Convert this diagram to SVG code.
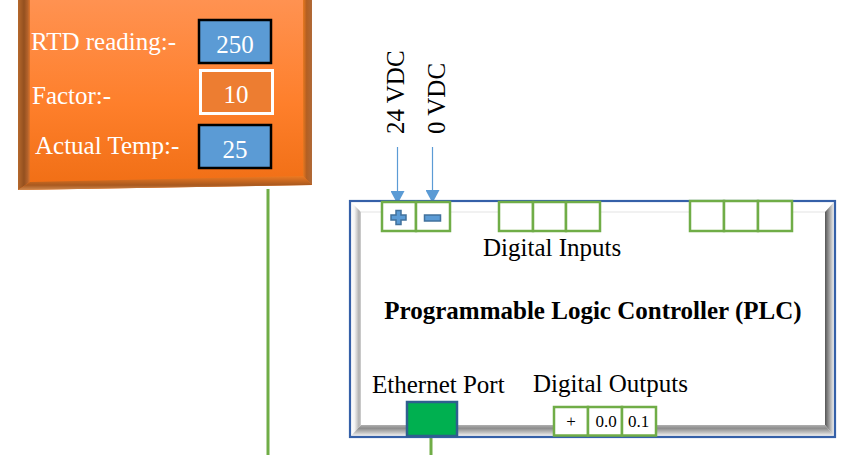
<svg xmlns="http://www.w3.org/2000/svg" width="867" height="455" viewBox="0 0 867 455">
<defs>
<linearGradient id="org" x1="0" y1="0" x2="0" y2="1"><stop offset="0" stop-color="#FF9251"/><stop offset="0.55" stop-color="#FE7F2B"/><stop offset="1" stop-color="#F06E14"/></linearGradient>
<linearGradient id="bl" x1="0" y1="0" x2="1" y2="0"><stop offset="0" stop-color="#B5682C"/><stop offset="0.5" stop-color="#94501F"/><stop offset="0.8" stop-color="#B3622B"/><stop offset="1" stop-color="#E0752A"/></linearGradient>
<linearGradient id="br" x1="1" y1="0" x2="0" y2="0"><stop offset="0" stop-color="#B06A38"/><stop offset="0.6" stop-color="#B35F22"/><stop offset="1" stop-color="#E8781F"/></linearGradient>
<linearGradient id="bb" x1="0" y1="1" x2="0" y2="0"><stop offset="0" stop-color="#D08A50"/><stop offset="0.35" stop-color="#A9591F"/><stop offset="1" stop-color="#EE7A22"/></linearGradient>
<linearGradient id="gl" x1="0" y1="0" x2="1" y2="0"><stop offset="0" stop-color="#FFFFFF"/><stop offset="0.35" stop-color="#F2F2F2"/><stop offset="0.8" stop-color="#B0B0B0"/><stop offset="1" stop-color="#D0D0D0"/></linearGradient>
<linearGradient id="gr" x1="1" y1="0" x2="0" y2="0"><stop offset="0" stop-color="#F2F2F2"/><stop offset="0.45" stop-color="#A8A8A8"/><stop offset="1" stop-color="#555555"/></linearGradient>
<linearGradient id="gb" x1="0" y1="1" x2="0" y2="0"><stop offset="0" stop-color="#F4F4F4"/><stop offset="0.3" stop-color="#C4C4C4"/><stop offset="0.7" stop-color="#8C8C8C"/><stop offset="1" stop-color="#B0B0B0"/></linearGradient>
<marker id="arr" markerUnits="userSpaceOnUse" markerWidth="14" markerHeight="14" refX="13" refY="7" orient="auto"><path d="M0 0L13 7L0 14Z" fill="#5B9BD5"/></marker>
<style>
text{font-family:"Liberation Serif","Times New Roman",serif}
.w{fill:#fff;font-size:25px}
.k{fill:#000;font-size:25px}
.num{fill:#fff;font-size:25px;text-anchor:middle}
.vb{fill:#5B9BD5;stroke:#000;stroke-width:2.5}
.cell{fill:#fff;stroke:#70AD47;stroke-width:2.5}
.sm{fill:#000;font-size:17px;text-anchor:middle}
.line{fill:none;stroke:#70AD47;stroke-width:3}
.pw{fill:none;stroke:#5B9BD5;stroke-width:1.2;marker-end:url(#arr)}
.sym{fill:#5B9BD5;stroke:#41719C;stroke-width:1.5}
</style>
</defs>
<g id="connectors">
<path class="line" d="M268 189V455"/>
<path class="line" d="M431 438V455"/>
<path class="pw" d="M397.500 147V204"/>
<path class="pw" d="M432.500 147V203"/>
</g>
<g id="rtd-panel">
<path d="M18 0H312V185L18 190Z" fill="url(#org)"/>
<path d="M18 0H30V182L18 190Z" fill="url(#bl)"/>
<path d="M312 0H303V176L312 185Z" fill="url(#br)"/>
<path d="M18 190L30 182L303 176L312 185Z" fill="url(#bb)"/>
<text class="w" x="31" y="50">RTD reading:-</text>
<text class="w" x="32" y="104">Factor:-</text>
<text class="w" x="35" y="154">Actual Temp:-</text>
</g>
<g id="rtd-value">
<rect class="vb" x="199" y="20" width="72" height="43"/>
<text class="num" x="235" y="53">250</text>
</g>
<g id="factor-value">
<rect x="200.500" y="70.500" width="72" height="43" fill="#ED7D31" stroke="#fff" stroke-width="3"/>
<text class="num" x="236" y="103">10</text>
</g>
<g id="temp-value">
<rect class="vb" x="199" y="125" width="72" height="43"/>
<text class="num" x="235" y="158">25</text>
</g>
<g id="supply-labels">
<text class="k" transform="translate(404 134) rotate(-90)">24 VDC</text>
<text class="k" transform="translate(445 134) rotate(-90)">0 VDC</text>
</g>
<g id="plc">
<rect x="350" y="201" width="485" height="236" fill="#fff"/>
<path d="M351 202L361 212V425L351 436Z" fill="url(#gl)"/>
<path d="M834 202L825 212V425L834 436Z" fill="url(#gr)"/>
<path d="M351 436L361 425H825L834 436Z" fill="url(#gb)"/>
<path d="M361 212H825" stroke="#E4E4E4" stroke-width="1.200" fill="none"/>
<rect x="350" y="201" width="485" height="236" fill="none" stroke="#3560A8" stroke-width="2.200"/>
<text class="k" x="483" y="256">Digital Inputs</text>
<text x="593" y="319" text-anchor="middle" font-size="25" font-weight="bold">Programmable Logic Controller (PLC)</text>
<text class="k" x="372" y="393">Ethernet Port</text>
<text class="k" x="533" y="392">Digital Outputs</text>
</g>
<g id="power-terminals">
<rect class="cell" x="382" y="202" width="34" height="29"/>
<rect class="cell" x="416" y="202" width="34" height="29"/>
<path class="sym" d="M396 210.500h5v4.500h5v5h-5v4.500h-5v-4.500h-5v-5h5z"/>
<rect class="sym" x="424.500" y="215" width="16" height="6"/>
</g>
<g id="digital-inputs-a">
<rect class="cell" x="499" y="202" width="34" height="29"/>
<rect class="cell" x="533" y="202" width="33" height="29"/>
<rect class="cell" x="566" y="202" width="34" height="29"/>
</g>
<g id="digital-inputs-b">
<rect class="cell" x="690" y="201" width="34" height="30"/>
<rect class="cell" x="724" y="201" width="34" height="30"/>
<rect class="cell" x="758" y="201" width="34" height="30"/>
</g>
<g id="ethernet-port">
<rect x="407" y="402" width="50" height="34" fill="#00B050" stroke="#2F5F8F" stroke-width="2.500"/>
</g>
<g id="digital-outputs">
<rect class="cell" x="554" y="407" width="34" height="28.500"/>
<rect class="cell" x="588" y="407" width="34" height="28.500"/>
<rect class="cell" x="622" y="407" width="34" height="28.500"/>
<text class="sm" x="571" y="427">+</text>
<text class="sm" x="606" y="427">0.0</text>
<text class="sm" x="638.500" y="427">0.1</text>
</g>
</svg>
